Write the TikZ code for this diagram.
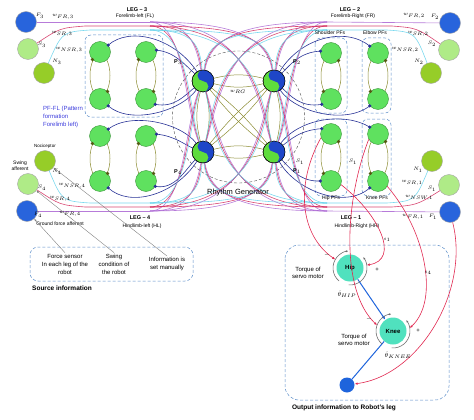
\documentclass[tikz,border=0pt]{standalone}
\usepackage{fontspec}
\setmainfont{Liberation Sans}
\usetikzlibrary{arrows.meta}

\definecolor{fblue}{RGB}{40,100,220}
\definecolor{sgreen}{RGB}{175,235,135}
\definecolor{nlime}{RGB}{150,205,40}
\definecolor{pfgreen}{RGB}{95,225,95}
\definecolor{pfedge}{RGB}{60,150,60}
\definecolor{rgblue}{RGB}{30,70,200}
\definecolor{rggreen}{RGB}{95,220,60}
\definecolor{navy}{RGB}{40,50,150}
\definecolor{olivelink}{RGB}{140,140,50}
\definecolor{olivedot}{RGB}{85,90,20}
\definecolor{boxblue}{RGB}{90,140,200}
\definecolor{fcol}{RGB}{170,100,210}
\definecolor{scol}{RGB}{210,40,90}
\definecolor{ncol}{RGB}{100,210,235}
\definecolor{jointteal}{RGB}{80,225,190}
\definecolor{torquegray}{RGB}{110,110,110}
\definecolor{sensred}{RGB}{225,40,80}
\definecolor{pflabel}{RGB}{60,60,220}
\definecolor{bonecol}{RGB}{30,100,220}

\tikzset{
  sensor/.style={circle, draw=black!35, minimum size=21pt, inner sep=0pt},
  pf/.style={circle, draw=pfedge, fill=pfgreen, minimum size=21pt, inner sep=0pt},
  rg/.style={circle, draw=black, fill=rggreen, minimum size=22pt, inner sep=0pt, outer sep=0pt},
  joint/.style={circle, fill=jointteal, minimum size=27pt, inner sep=0pt, font=\fontsize{6}{7}\selectfont\bfseries},
  wire/.style={line width=0.6pt, opacity=0.85},
  pfwire/.style={navy, line width=0.6pt},
  rglink/.style={olivelink, line width=0.5pt},
  pfbox/.style={boxblue, densely dashed, rounded corners=6pt, line width=0.5pt},
  txt/.style={font=\fontsize{6}{8}\selectfont, align=center, inner sep=1pt},
  small/.style={font=\fontsize{5}{6}\selectfont, align=center, inner sep=0.5pt},
  wlab/.style={font=\fontsize{5}{6}\selectfont, inner sep=0pt},
  leglab/.style={font=\fontsize{5.5}{6}\selectfont\bfseries, inner sep=0pt},
  redlink/.style={sensred, line width=0.6pt, -{Latex[length=3pt,width=2.5pt]}},
  torque/.style={torquegray, line width=0.6pt, -{Latex[length=2.5pt,width=2pt]}},
  graylink/.style={gray, line width=0.4pt, -{Latex[length=2.5pt,width=2pt]}},
  legbone/.style={bonecol, line width=1pt},
}

% one leg's sensor bundle into the four rhythm nodes
\newcommand{\legfan}[5]{%
  \begin{scope}[#1]
    \foreach \col/\dy in {fcol/0, scol/4, ncol/8} {
      \draw[wire, draw=\col] (150,22+\dy) .. controls (190+\dy/2,22+\dy) and (196+\dy/2,45) .. (#2);
      \draw[wire, draw=\col] (150,22+\dy) .. controls (230+\dy,22+\dy) and (266+\dy/2,35) .. (#3);
      \draw[wire, draw=\col] (150,22+\dy) .. controls (185+\dy/2,22+\dy) and (185+\dy/2,110) .. (#4);
      \draw[wire, draw=\col] (150,22+\dy) .. controls (250+\dy,22+\dy) and (258+\dy/2,100) .. (#5);
    }
  \end{scope}}

\begin{document}
\begin{tikzpicture}[x=1pt, y=-1pt]
\useasboundingbox (0,0) rectangle (474,420);

% Dashed boxes
\draw[pfbox] (85,35) rectangle (163,117);
\draw[pfbox] (315,38) rectangle (347,113);
\draw[pfbox] (362,38) rectangle (391,113);
\draw[pfbox] (315,119) rectangle (347,196);
\draw[pfbox] (362,119) rectangle (391,196);
\draw[pfbox, rounded corners=8pt] (30,247) rectangle (193,281);
\draw[pfbox, rounded corners=14pt] (285,245) rectangle (449,400);

% Rhythm generator
\draw[densely dashed, black!70, line width=0.4pt] (238.5,117) circle[radius=66];

% PF couplings
\foreach \x/\y in {100/75.5, 146/75.5, 100/158.5, 146/158.5, 331/76, 378/76, 331/157.5, 378/157.5}
  \draw[rglink] (\x,\y) ellipse[x radius=10, y radius=21];

% Sensors
\node[sensor, fill=fblue] (F3) at (26,22) {};
\node[sensor, fill=sgreen] (S3) at (28,49) {};
\node[sensor, fill=nlime] (N3) at (44,73) {};
\node[sensor, fill=fblue] (F2) at (450,23) {};
\node[sensor, fill=sgreen] (S2) at (449,50) {};
\node[sensor, fill=nlime] (N2) at (431,73) {};
\node[sensor, fill=nlime] (N4) at (45,161) {};
\node[sensor, fill=sgreen] (S4) at (28,184) {};
\node[sensor, fill=fblue] (F4) at (27,211) {};
\node[sensor, fill=nlime] (N1) at (432,161) {};
\node[sensor, fill=sgreen] (S1) at (449,185) {};
\node[sensor, fill=fblue] (F1) at (450,212) {};

% PF neurons
\foreach \n/\x/\y in {lt1/100/52, lt2/146/52, lt3/100/99, lt4/146/99,
                      lb1/100/136, lb2/146/136, lb3/100/181, lb4/146/181,
                      rt1/331/53, rt2/378/53, rt3/331/99, rt4/378/99,
                      rb1/331/134, rb2/378/134, rb3/331/181, rb4/378/181}
  \node[pf] (\n) at (\x,\y) {};

\foreach \a in {lt1.225, lt3.45, lt2.225, lt4.45, lb1.225, lb3.45, lb2.225, lb4.45,
                rt1.-45, rt3.135, rt2.-45, rt4.135, rb1.-45, rb3.135, rb2.-45, rb4.135}
  \fill[olivedot] (\a) circle (1.8);

% Rhythm generator neurons
\foreach \n/\x/\y in {rgTL/203/81, rgTR/274/81, rgBL/203/152, rgBR/274/152} {
  \node[rg] (\n) at (\x,\y) {};
  \fill[rgblue] (\n.north) arc[start angle=90, end angle=-90, radius=11pt]
    arc[start angle=-90, end angle=90, radius=5.5pt]
    arc[start angle=270, end angle=90, radius=5.5pt];
  \draw[line width=0.4pt] (\n.center) circle[radius=11pt];
}

% Couplings inside the rhythm generator
\foreach \a/\b in {rgTL/rgTR, rgBL/rgBR, rgTL/rgBL, rgTR/rgBR} {
  \draw[rglink] (\a) to[bend left=14] (\b);
  \draw[rglink] (\a) to[bend right=14] (\b);
}
\foreach \a/\b in {rgTL/rgBR, rgTR/rgBL} {
  \draw[rglink] (\a) to[bend left=6] (\b);
  \draw[rglink] (\a) to[bend right=6] (\b);
}

% Rhythm generator -> PF
\foreach \s/\ax/\ay/\bx/\by/\t in {
  lt1.40/130/26/175/38/rgTL, lt2.10/175/52/185/65/rgTL, lt4.-30/175/108/185/95/rgTL, lt3.-40/130/125/180/112/rgTL,
  lb1.40/130/112/180/122/rgBL, lb2.10/175/136/185/145/rgBL, lb4.-30/175/190/185/170/rgBL, lb3.-40/130/208/175/195/rgBL,
  rt1.170/300/52/290/65/rgTR, rt2.140/345/26/300/38/rgTR, rt3.-150/300/108/290/95/rgTR, rt4.-140/345/125/295/112/rgTR,
  rb1.150/300/130/290/140/rgBR, rb2.140/345/112/300/118/rgBR, rb3.180/300/182/290/168/rgBR, rb4.-140/345/210/295/190/rgBR} {
  \draw[pfwire] (\s) .. controls (\ax,\ay) and (\bx,\by) .. (\t);
  \fill[navy] (\s) circle (1.8);
}

% Sensor rails
\draw[wire, draw=fcol] (F3) -- (150,22);
\draw[wire, draw=scol] (S3) .. controls (60,28) .. (85,26) -- (150,26);
\draw[wire, draw=ncol] (N3) .. controls (62,32) .. (90,30) -- (150,30);
\draw[wire, draw=fcol] (F2) -- (327,22);
\draw[wire, draw=scol] (S2) .. controls (417,28) .. (392,26) -- (327,26);
\draw[wire, draw=ncol] (N2) .. controls (415,32) .. (387,30) -- (327,30);
\draw[wire, draw=fcol] (F4) -- (150,211);
\draw[wire, draw=scol] (S4) .. controls (60,205) .. (85,207) -- (150,207);
\draw[wire, draw=ncol] (N4) .. controls (62,201) .. (90,203) -- (150,203);
\draw[wire, draw=fcol] (F1) -- (327,211);
\draw[wire, draw=scol] (S1) .. controls (417,205) .. (392,207) -- (327,207);
\draw[wire, draw=ncol] (N1) .. controls (415,201) .. (387,203) -- (327,203);

% Bundles into the rhythm generator
\legfan{}{rgTL}{rgTR}{rgBL}{rgBR}
\legfan{shift={(477,0)}, xscale=-1}{rgTR}{rgTL}{rgBR}{rgBL}
\legfan{shift={(0,233)}, yscale=-1}{rgBL}{rgBR}{rgTL}{rgTR}
\legfan{shift={(477,233)}, xscale=-1, yscale=-1}{rgBR}{rgBL}{rgTR}{rgTL}

% Sensor labels
\node[wlab] (lF3) at (40,16) {$F_3$};
\node[wlab] (lwF3) at (63,17) {$w_{FR,3}$};
\node[wlab] (lS3) at (42,45) {$S_3$};
\node[wlab] (lwS3) at (62,34) {$w_{SR,3}$};
\node[wlab] (lwN3) at (69,50) {$w_{NSR,3}$};
\node[wlab] (lN3) at (57,62) {$N_3$};
\node[wlab] (lF2) at (435,17) {$F_2$};
\node[wlab] (lwF2) at (414,16) {$w_{FR,2}$};
\node[wlab] (lS2) at (432,44) {$S_2$};
\node[wlab] (lwS2) at (418,34) {$w_{SR,2}$};
\node[wlab] (lwN2) at (405,50) {$w_{NSR,2}$};
\node[wlab] (lN2) at (419,62) {$N_2$};
\node[wlab] (lN4) at (57,172) {$N_4$};
\node[wlab] (lwN4) at (72,186) {$w_{NSR,4}$};
\node[wlab] (lS4) at (42,188) {$S_4$};
\node[wlab] (lwS4) at (60,199) {$w_{SR,4}$};
\node[wlab] (lF4) at (38,215) {$F_4$};
\node[wlab] (lwF4) at (70,214) {$w_{FR,4}$};
\node[wlab] (lN1) at (418,170) {$N_1$};
\node[wlab] (lwN1) at (412,183) {$w_{SR,1}$};
\node[wlab] (lS1) at (432,189) {$S_1$};
\node[wlab] (lwS1) at (419,198) {$w_{NSW,1}$};
\node[wlab] (lF1) at (433,217) {$F_1$};
\node[wlab] (lwF1) at (413,217) {$w_{FR,1}$};

\node[small, font=\fontsize{4.5}{5.5}\selectfont] (lnoci) at (45,146) {Nociceptor};
\node[small] (lswing) at (20,166) {Swing\\afferent};
\node[small] (lground) at (60,224) {Ground force afferent};
\node[txt, align=left, text=pflabel, anchor=north west, font=\fontsize{6}{8}\selectfont] (lpffl) at (42,105) {PF-FL (Pattern\\formation\\Forelimb left)};

% Leg titles
\node[leglab] (leg3) at (137,10) {LEG – 3};
\node[small] (leg3b) at (135,16.5) {Forelimb-left (FL)};
\node[leglab] (leg2) at (350,10) {LEG – 2};
\node[small] (leg2b) at (353,16.5) {Forelimb-Right (FR)};
\node[leglab] (leg4) at (140,218) {LEG – 4};
\node[small] (leg4b) at (142,226) {Hindlimb-left (HL)};
\node[leglab] (leg1) at (351,218) {LEG – 1};
\node[small] (leg1b) at (357,226) {Hindlimb-Right (HR)};

% PF labels
\node[small] (lshoulder) at (330,33) {Shoulder PFs};
\node[small] (lelbow) at (375,33) {Elbow PFs};
\node[small] (lhip) at (331,198) {Hip PFs};
\node[small] (lknee) at (377,198) {Knee PFs};
\node[wlab, font=\fontsize{5.5}{6}\selectfont] (lP3) at (178,62) {$\mathbf{P}_3$};
\node[wlab, font=\fontsize{5.5}{6}\selectfont] (lP4) at (178,172) {$\mathbf{P}_4$};
\node[wlab, font=\fontsize{5.5}{6}\selectfont] (lP2) at (297,62) {$\mathbf{P}_2$};
\node[wlab, font=\fontsize{5.5}{6}\selectfont] (lP1) at (297,171) {$\mathbf{P}_1$};
\node[wlab, font=\fontsize{5.5}{6}\selectfont] (lS1a) at (300,162) {$S_1$};
\node[wlab, font=\fontsize{5.5}{6}\selectfont] (lS1b) at (353,162) {$S_1$};
\node[wlab] (lwrg) at (238,92) {$w_{RG}$};
\node[font=\fontsize{7.5}{9}\selectfont, inner sep=0pt] (lrg) at (238,193) {Rhythm Generator};

% Source information
\node[txt] (forcetxt) at (65,264) {Force sensor\\In each leg of the\\robot};
\node[txt] (swingtxt) at (114,264) {Swing\\condition of\\the robot};
\node[txt] (infotxt) at (167,264) {Information is\\set manually};
\node[txt, font=\fontsize{6.5}{8}\selectfont\bfseries] (srclab) at (62,288) {Source information};
\draw[graylink] (forcetxt.north) -- (F4);
\draw[graylink] (swingtxt.north) -- (S4);
\draw[graylink] (infotxt.north) -- (N4);

% Output to the leg
\node[joint] (hip) at (350,268) {Hip};
\node[joint] (knee) at (393,331) {Knee};
\node[circle, fill=bonecol, minimum size=15pt, inner sep=0pt] (foot) at (347,385) {};
\draw[legbone, -{Latex[length=4pt,width=3.5pt]}] (hip) -- (knee);
\draw[legbone] (knee) -- (foot);

\draw[torque] ([shift={(230:17pt)}]hip.center) arc[start angle=230, end angle=95, radius=17pt];
\draw[torque] ([shift={(-95:17pt)}]hip.center) arc[start angle=-95, end angle=40, radius=17pt];
\draw[torque] ([shift={(230:17pt)}]knee.center) arc[start angle=230, end angle=95, radius=17pt];
\draw[torque] ([shift={(-95:17pt)}]knee.center) arc[start angle=-95, end angle=40, radius=17pt];

\draw[redlink] (rb1.200) .. controls (295,185) and (300,235) .. ([shift={(150:17pt)}]hip.center);
\draw[redlink] (rb2.210) .. controls (345,200) and (340,290) .. ([shift={(160:17pt)}]knee.center);
\draw[redlink] (rb3.-20) .. controls (380,215) and (400,260) .. ([shift={(10:17pt)}]hip.center);
\draw[redlink] (rb4.-30) .. controls (425,230) and (440,300) .. ([shift={(10:17pt)}]knee.center);
\draw[redlink] (F1) .. controls (470,290) and (420,375) .. (foot);

\node[txt] (hipminus) at (327,255) {$-$};
\node[txt] (hipplus) at (377,270) {+};
\node[txt] (kneeminus) at (369,319) {$-$};
\node[txt] (kneeplus) at (418,331) {+};
\node[wlab, font=\fontsize{5.5}{6}\selectfont] (ls1) at (387,240) {$s_1$};
\node[wlab, font=\fontsize{5.5}{6}\selectfont] (ls4) at (428,273) {$s_4$};
\node[txt, font=\fontsize{6}{7}\selectfont] (hiptorque) at (308,273) {Torque of\\servo motor};
\node[txt, font=\fontsize{6}{7}\selectfont] (kneetorque) at (354,340) {Torque of\\servo motor};
\node[font=\fontsize{6.5}{8}\selectfont, inner sep=0pt] (thhip) at (347,294) {$\dot{\theta}_{HIP}$};
\node[font=\fontsize{6.5}{8}\selectfont, inner sep=0pt] (thknee) at (398,355) {$\dot{\theta}_{KNEE}$};
\node[txt, font=\fontsize{6.5}{8}\selectfont\bfseries] (outlab) at (344,408) {Output information to Robot's leg};

\end{tikzpicture}
\end{document}
